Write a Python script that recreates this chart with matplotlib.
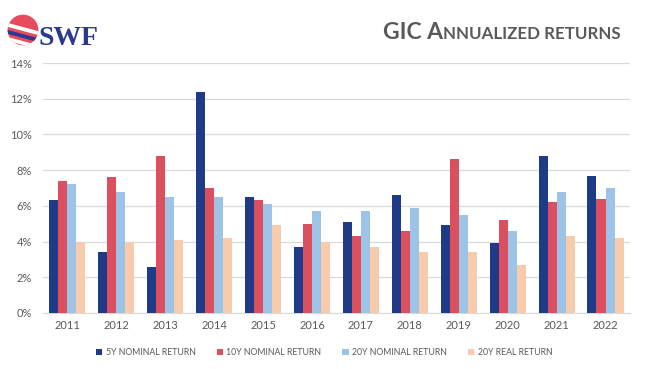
import numpy as np
import matplotlib
matplotlib.use("Agg")
import matplotlib.pyplot as plt
from matplotlib.patches import Patch, Circle, Rectangle

# ---------------------------------------------------------------- data
years = ["2011", "2012", "2013", "2014", "2015", "2016",
         "2017", "2018", "2019", "2020", "2021", "2022"]
ret_5y_nominal = [6.3, 3.4, 2.6, 12.4, 6.5, 3.7, 5.1, 6.6, 4.9, 3.9, 8.8, 7.7]
ret_10y_nominal = [7.4, 7.6, 8.8, 7.0, 6.3, 5.0, 4.3, 4.6, 8.6, 5.2, 6.2, 6.4]
ret_20y_nominal = [7.2, 6.8, 6.5, 6.5, 6.1, 5.7, 5.7, 5.9, 5.5, 4.6, 6.8, 7.0]
ret_20y_real = [4.0, 4.0, 4.1, 4.2, 4.9, 4.0, 3.7, 3.4, 3.4, 2.7, 4.3, 4.2]
series_names = ["5Y NOMINAL RETURN", "10Y NOMINAL RETURN",
                "20Y NOMINAL RETURN", "20Y REAL RETURN"]
y_ticks = [0, 2, 4, 6, 8, 10, 12, 14]

# ---------------------------------------------------------------- style
COLORS = ["#1F3B87", "#DC4F5F", "#9DC3E6", "#F8CBAD"]
TEXT_GREY = "#595959"
plt.rcParams["font.family"] = ["Lato", "DejaVu Sans"]

fig = plt.figure(figsize=(6.59, 3.69), dpi=100)
ax = fig.add_axes([0.065, 0.152, 0.891, 0.677])

series = [ret_5y_nominal, ret_10y_nominal, ret_20y_nominal, ret_20y_real]
x = np.arange(len(years))
width = 0.185
for i, (vals, color) in enumerate(zip(series, COLORS)):
    ax.bar(x + (i - 1.5) * width, vals, width=width, color=color, zorder=3)

ax.set_xlim(-0.5, len(years) - 0.5)
ax.set_ylim(0, 14)
ax.set_yticks(y_ticks)
ax.set_yticklabels([f"{t}%" for t in y_ticks])
ax.set_xticks(x)
ax.set_xticklabels(years)
ax.tick_params(axis="both", length=0, labelsize=8, colors=TEXT_GREY, pad=5)
ax.tick_params(axis="y", pad=8)
ax.yaxis.grid(True, color="#D9D9D9", linewidth=0.9, zorder=0)
for side in ["top", "right", "left"]:
    ax.spines[side].set_visible(False)
ax.spines["bottom"].set_color("#D9D9D9")

# legend
handles = [Patch(facecolor=c, edgecolor="none") for c in COLORS]
fig.legend(handles, series_names, loc="center", bbox_to_anchor=(0.492, 0.045),
           ncol=4, frameon=False, fontsize=6.3, handlelength=0.7,
           handleheight=0.7, handletextpad=0.4, columnspacing=2.4,
           labelcolor=TEXT_GREY)

# ---------------------------------------------------------------- title (small caps)
fig.canvas.draw()
renderer = fig.canvas.get_renderer()
tx, ty = 383 / 659, 1 - 39 / 369
pieces = [("GIC A", 16.5), ("NNUALIZED RETURNS", 12.2)]
for text, size in pieces:
    t = fig.text(tx, ty, text, fontsize=size, color=TEXT_GREY,
                 fontweight="bold", va="baseline", ha="left")
    bb = t.get_window_extent(renderer=renderer)
    tx += bb.width / fig.bbox.width

# ---------------------------------------------------------------- logo
logo = fig.add_axes([7 / 659, 1 - 47 / 369, 32 / 659, 34 / 369])
logo.set_xlim(0, 1)
logo.set_ylim(0, 1)
logo.set_aspect("equal")
logo.axis("off")
circ = Circle((0.5, 0.5), 0.48, facecolor="#E94B5E", edgecolor="none")
logo.add_patch(circ)
for k, yy in enumerate([0.25, 0.47, 0.69]):
    stripe = Rectangle((-0.1, yy - 0.06), 1.2, 0.12, angle=-15,
                       facecolor="white" if k != 1 else "#2B3990",
                       edgecolor="none", clip_path=circ)
    logo.add_patch(stripe)
fig.text(38 / 659, 1 - 45 / 369, "SWF", fontsize=20, fontweight="bold",
         family="Liberation Serif", color="#2B3990", va="baseline")

fig.savefig("out.png", dpi=100)
